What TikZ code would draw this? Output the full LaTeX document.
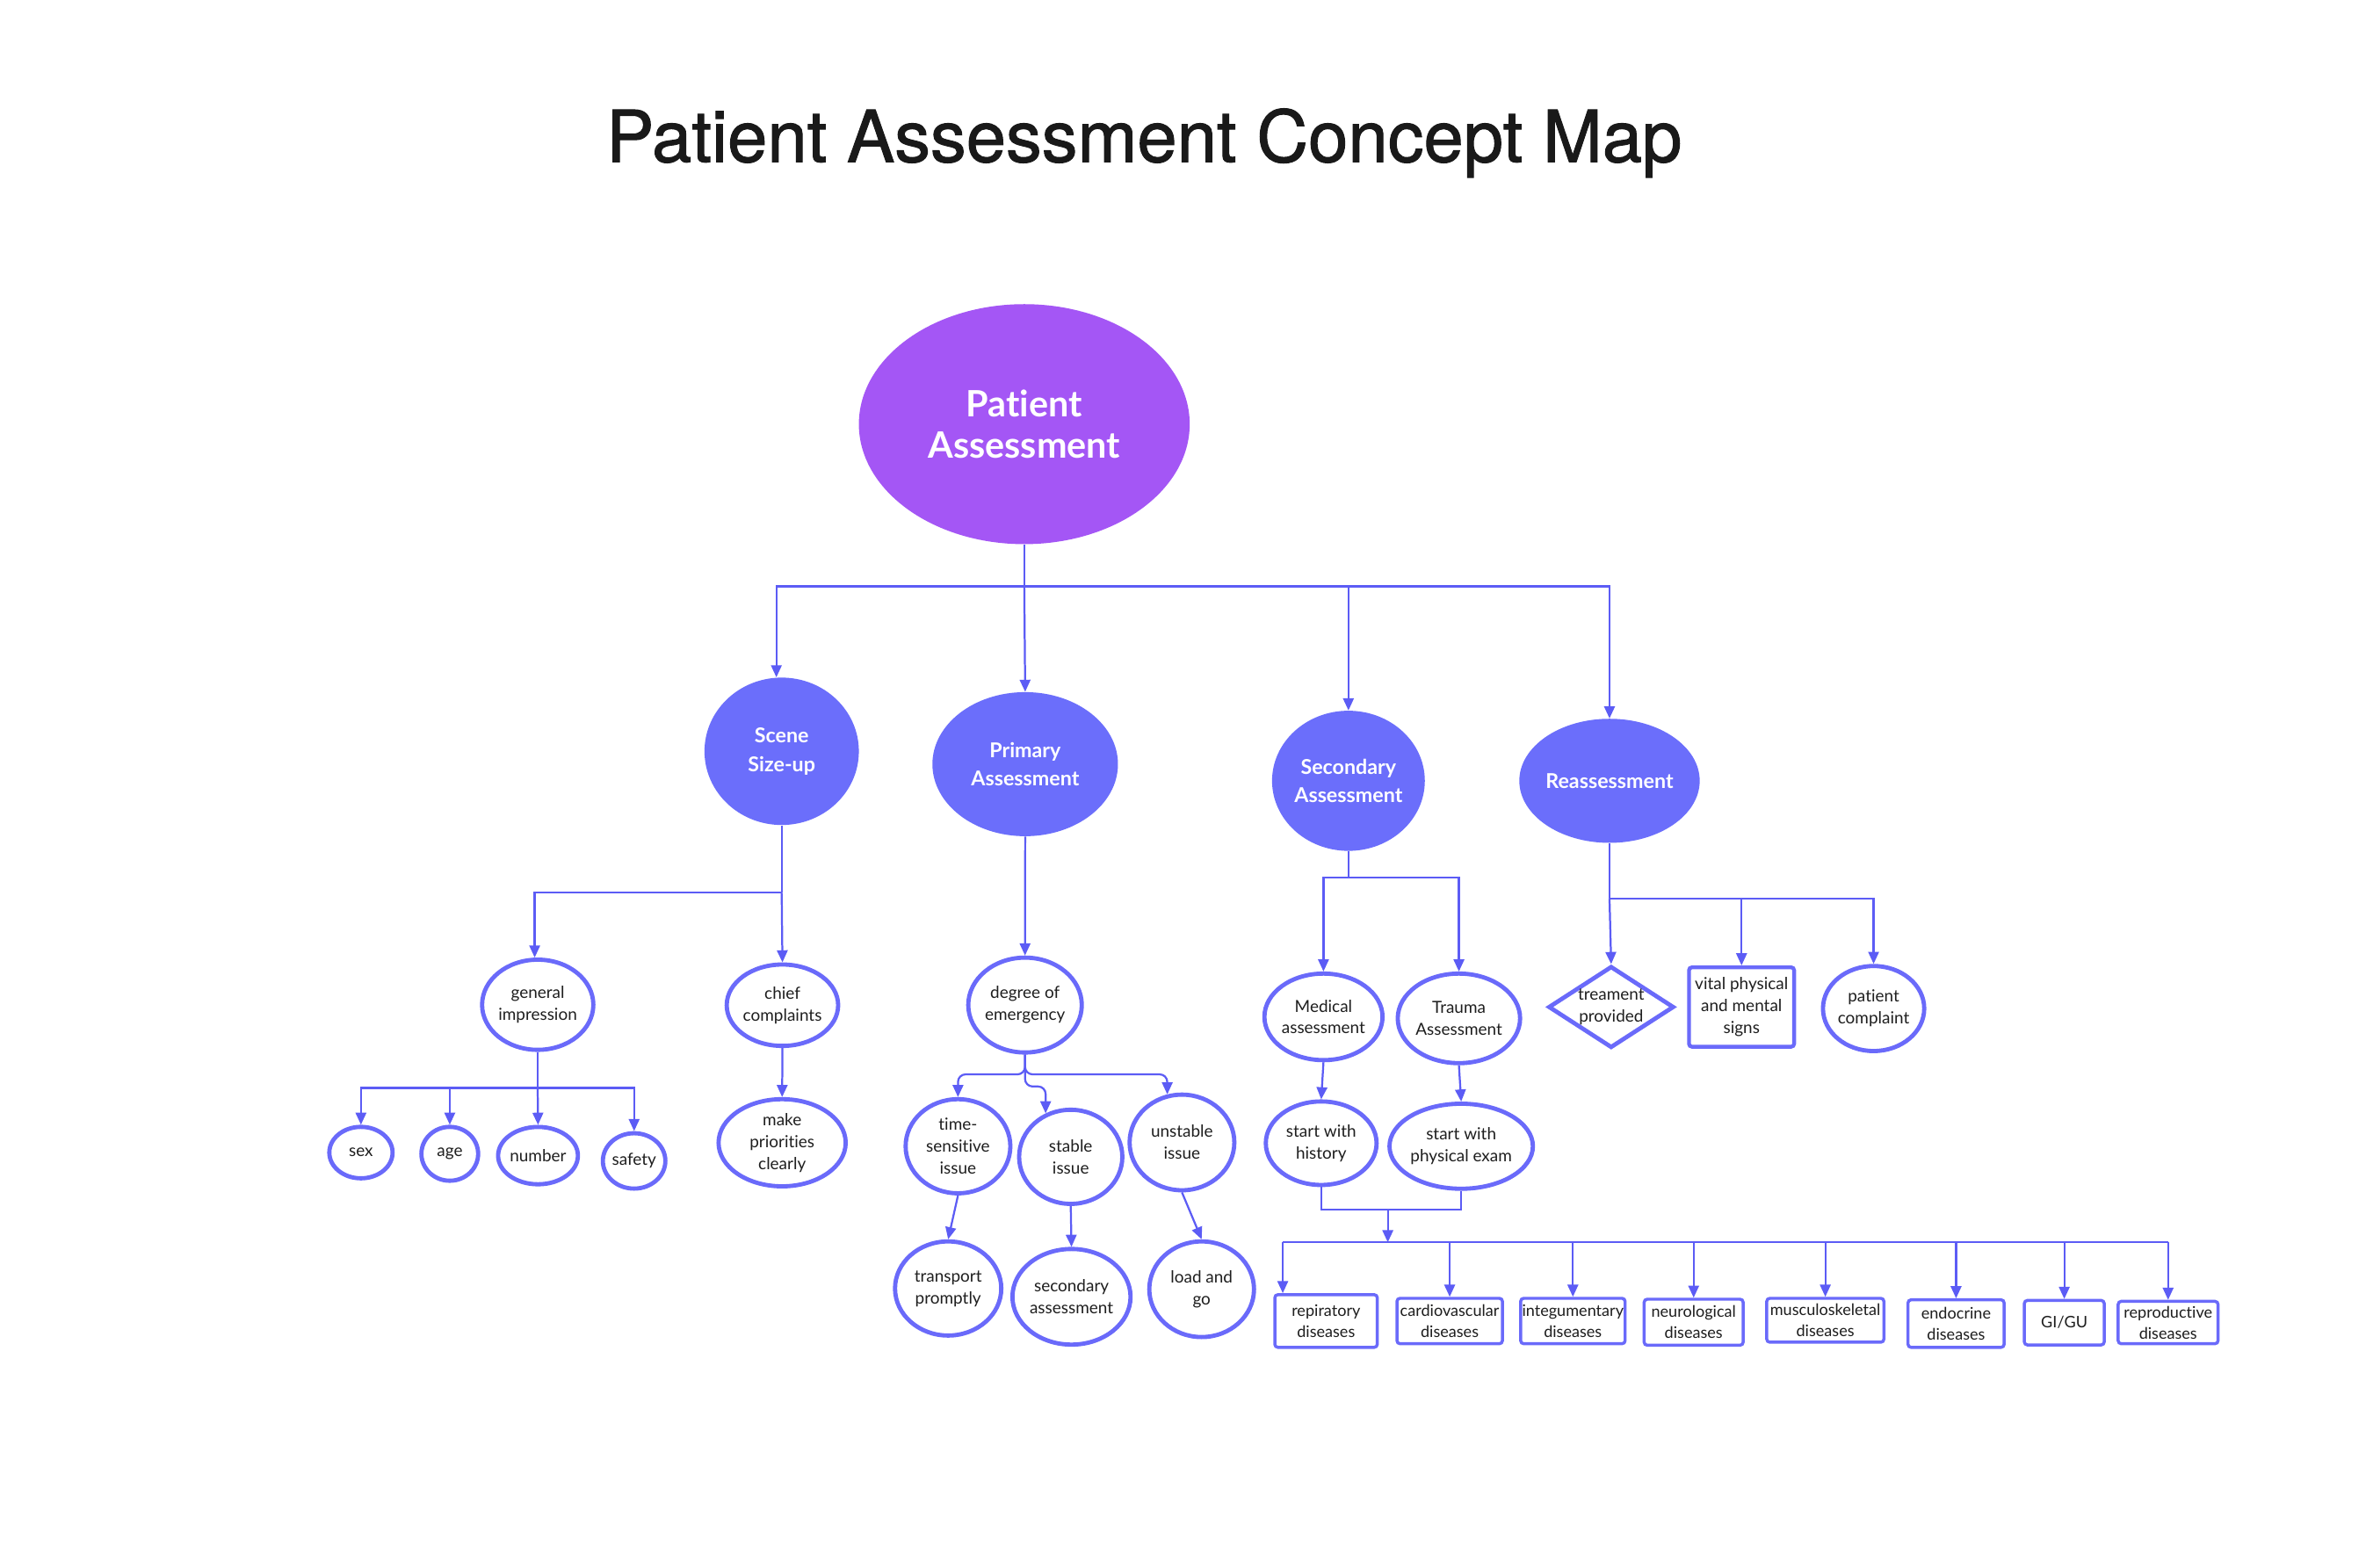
\documentclass[tikz,border=0pt]{standalone}
\usepackage{fontspec}
\setmainfont{Lato}[Ligatures={NoCommon}]
\newfontfamily\titlefont{TeX Gyre Heros}[FakeBold=1.2]
\usetikzlibrary{arrows.meta,shapes.geometric,calc}
\definecolor{pur}{HTML}{A456F5}
\definecolor{lblue}{HTML}{6B6EFB}
\definecolor{bord}{HTML}{6A6AFA}
\definecolor{lne}{HTML}{5C5CF5}
\definecolor{txt}{HTML}{1E1E1E}
\definecolor{ttl}{HTML}{191919}
\begin{document}
\begin{tikzpicture}[x=1pt,y=-1pt,
  l1/.style={ellipse, fill=lblue, text=white, font=\bfseries\fontsize{13.5}{19}\selectfont, align=center, inner sep=0pt},
  l2/.style={ellipse, draw=bord, line width=2.8pt, fill=white, text=txt, font=\fontsize{11}{14.5}\selectfont, align=center, inner sep=0pt},
  dbox/.style={rectangle, rounded corners=2pt, draw=bord, line width=2pt, fill=white, text=txt, font=\fontsize{10.5}{14}\selectfont, align=center, inner sep=0pt},
  lbl/.style={text=txt, font=\fontsize{11}{14.5}\selectfont, align=center},
  sz/.style 2 args={minimum width=#1pt, minimum height=#2pt},
  conn/.style={draw=lne, line width=1.3pt},
  arr/.style={conn, -{Triangle[length=8pt,width=7pt]}},
]
\fill[white] (0,0) rectangle (1568,1036);
\useasboundingbox (0,0) rectangle (1568,1036);

% title
\node[font=\titlefont\fontsize{47.3}{56}\selectfont, text=ttl, anchor=base, inner sep=0pt] (title) at (756,107) {Patient Assessment Concept Map};

% root
\node[ellipse, fill=pur, text=white, font=\bfseries\fontsize{24}{27}\selectfont, align=center, inner sep=0pt, sz={218.6}{158.6}] (pa) at (676.8,280.3) {Patient\\Assessment};

% level 1
\node[l1, sz={102}{97.4}] (scene) at (516.5,496.5) {Scene\\Size-up};
\node[l1, sz={122.6}{95.2}] (prim) at (677.4,505) {Primary\\Assessment};
\node[l1, sz={98}{92.6}] (sec) at (891,516) {Secondary\\Assessment};
\node[l1, sz={119}{82}] (reas) at (1063.5,516) {Reassessment};

% scene size-up branch
\node[l2, sz={71.6}{59.6}] (gi) at (355.3,664) {general\\impression};
\node[l2, sz={72.4}{53.8}] (cc) at (517,664.3) {chief\\complaints};
\node[l2, sz={84}{57.6}] (mp) at (516.8,755.2) {make\\priorities\\clearly};
\node[l2, sz={41.8}{34}] (sex) at (238.5,761.7) {sex};
\node[l2, sz={37.5}{35.6}] (age) at (297.2,762.5) {age};
\node[l2, sz={51.7}{37.9}] (num) at (355.5,763.7) {number};
\node[l2, sz={38.2}{36.6}] (saf) at (419,767.2) {safety};

% primary branch
\node[l2, sz={69.7}{62.7}] (deg) at (677.3,664.2) {degree of\\emergency};
\node[l2, sz={69.2}{62.2}] (ts) at (633,757.5) {time-\\sensitive\\issue};
\node[l2, sz={68.2}{62.2}] (st) at (707.5,764.5) {stable\\issue};
\node[l2, sz={69.2}{63.2}] (un) at (781,755) {unstable\\issue};
\node[l2, sz={70.2}{62.2}] (tp) at (626.5,851.5) {transport\\promptly};
\node[l2, sz={75.2}{63.2}] (sa) at (708,857) {secondary\\assessment};
\node[l2, sz={69.2}{63.2}] (lg) at (794,852) {load and\\go};

% secondary branch
\node[l2, sz={74.2}{57.2}] (med) at (874.5,672) {Medical\\assessment};
\node[l2, sz={72.6}{59.2}] (tra) at (964,673) {Trauma\\Assessment};
\node[l2, sz={73.2}{55.2}] (swh) at (873,755.5) {start with\\history};
\node[l2, sz={88.2}{56.2}] (spe) at (965.5,757.5) {start with\\physical exam};

\node[dbox, sz={67.7}{34.8}] (resp) at (876.2,873) {repiratory\\diseases};
\node[dbox, sz={69.7}{30}] (card) at (957.9,873) {cardiovascular\\diseases};
\node[dbox, sz={69}{30}] (integ) at (1039.3,873) {integumentary\\diseases};
\node[dbox, sz={65.4}{30.4}] (neuro) at (1119.1,873.8) {neurological\\diseases};
\node[dbox, sz={77.4}{29}] (musc) at (1206.1,872.5) {musculoskeletal\\diseases};
\node[dbox, sz={63.5}{31.4}] (endo) at (1292.5,874.7) {endocrine\\diseases};
\node[dbox, sz={52.8}{29.4}] (gigu) at (1364,874.1) {GI/GU};
\node[dbox, sz={66}{28}] (repro) at (1432.6,874) {reproductive\\diseases};

% reassessment branch
\node[diamond, draw=bord, line width=2.8pt, fill=white, inner sep=0pt, sz={83}{54}, label={[lbl]center:treament\\provided}] (tr) at (1064.6,665.5) {};
\node[dbox, line width=2.5pt, font=\fontsize{11}{14.5}\selectfont, sz={69.5}{52.5}] (vit) at (1150.75,665.5) {vital physical\\and mental\\signs};
\node[l2, sz={63.2}{56.2}] (pc) at (1238,666.5) {patient\\complaint};

% ---- connectors ----
\coordinate (j0) at (676.8,387.5);
\draw[conn] (pa.south) -- (j0);
\draw[arr] (j0) -| ([xshift=-3.5pt]scene.north);
\draw[arr] (j0) -- (prim.north);
\draw[arr] (j0) -| (sec.north);
\draw[arr] (j0) -| (reas.north);

\coordinate (j1) at (516.5,590);
\draw[conn] (scene.south) -- (j1);
\draw[arr] (j1) -| ([xshift=-2pt]gi.north);
\draw[arr] (j1) -- (cc.north);

\coordinate (j2) at (355.3,719);
\draw[conn] (gi.south) -- (j2);
\draw[arr] (j2) -| (sex.north);
\draw[arr] (j2) -| (age.north);
\draw[arr] (j2) -- (num.north);
\draw[arr] (j2) -| (saf.north);
\draw[arr] (cc.south) -- (mp.north);

\draw[arr] (prim.south) -- (deg.north);
\coordinate (j3) at (677.3,710);
\draw[arr, rounded corners=5pt] (deg.south) -- (j3) -| (ts.north);
\draw[arr, rounded corners=5pt] (deg.south) -- (j3) -| (un.107);
\draw[arr, rounded corners=5pt] (deg.south) -- (677.3,718) -| (st.120);
\draw[arr] (ts.south) -- (tp.north);
\draw[arr] (st.south) -- (sa.north);
\draw[arr] (un.south) -- (lg.north);

\coordinate (j4) at (891,580);
\draw[conn] (sec.south) -- (j4);
\draw[arr] (j4) -| (med.north);
\draw[arr] (j4) -| (tra.north);
\draw[arr] (med.south) -- (swh.north);
\draw[arr] (tra.south) -- (spe.north);

\coordinate (j5) at (917,799.5);
\coordinate (j6) at (917,821);
\coordinate (rl) at ([xshift=-28.6pt]resp.north);
\draw[conn] (swh.south) |- (j5);
\draw[conn] (spe.south) |- (j5);
\draw[arr] (j5) -- (j6);
\draw[conn] (j6 -| rl) -- (j6 -| repro.north);
\draw[arr] (j6 -| rl) -- (rl);
\foreach \n in {card,integ,neuro,musc,endo,gigu,repro}
  \draw[arr] (j6 -| \n.north) -- (\n.north);

\coordinate (j7) at (1063.5,594);
\draw[conn] (reas.south) -- (j7);
\draw[arr] (j7) -- (tr.north);
\draw[arr] (j7) -| (vit.north);
\draw[arr] (j7) -| (pc.north);
\end{tikzpicture}
\end{document}
